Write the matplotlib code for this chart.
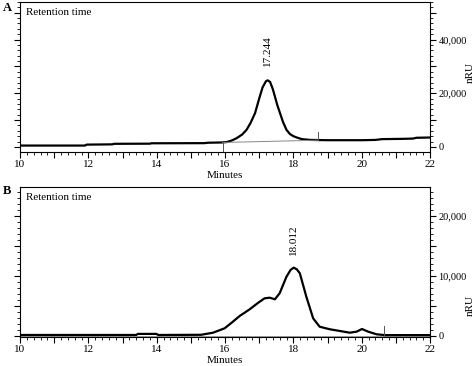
import matplotlib
matplotlib.use("Agg")
from matplotlib import pyplot as plt
from matplotlib.ticker import MultipleLocator, FuncFormatter

plt.rcParams['font.family'] = ['Liberation Serif', 'DejaVu Serif']
plt.rcParams['font.size'] = 8

# Panel A chromatogram (minutes, nRU)
time_a = [10.0, 11.9, 11.95, 12.7, 12.75, 13.8, 13.85, 15.4, 15.5, 15.9, 16.05, 16.2,
          16.34, 16.5, 16.63, 16.75, 16.88, 17.0, 17.1, 17.2, 17.25, 17.32, 17.4,
          17.46, 17.53, 17.61, 17.7, 17.8, 17.9, 18.0, 18.1, 18.25, 18.49, 19.0,
          20.0, 20.4, 20.6, 21.2, 21.5, 21.6, 22.0]
signal_a = [500, 500, 850, 950, 1150, 1200, 1350, 1400, 1550, 1650, 1800, 2400,
            3250, 4600, 6350, 9000, 12600, 18000, 22200, 24500, 24800, 24200, 21500,
            18800, 15600, 12600, 9200, 6350, 4800, 4000, 3500, 2900, 2600, 2500,
            2500, 2600, 2900, 3000, 3100, 3400, 3500]
base_a = ([15.93, 18.72], [1650, 2500])
peak_a = 17.244

# Panel B chromatogram
time_b = [10.0, 13.4, 13.45, 13.99, 14.05, 15.3, 15.65, 15.99, 16.23, 16.43, 16.72,
          16.97, 17.16, 17.31, 17.46, 17.6, 17.8, 17.92, 18.01, 18.1, 18.19, 18.38,
          18.58, 18.77, 19.07, 19.36, 19.65, 19.85, 20.01, 20.19, 20.44, 20.68, 22.0]
signal_b = [120, 120, 300, 300, 120, 150, 500, 1240, 2340, 3300, 4400,
            5500, 6250, 6350, 6080, 7100, 9870, 11000, 11370, 11100, 10430, 6520,
            2900, 1500, 1070, 790, 500, 670, 1120, 670, 230, 100, 100]
peak_b = 18.012


def fmt_every(step):
    return FuncFormatter(lambda v, p: f'{int(round(v)):,}' if round(v) % step == 0 else '')


def style_axes(ax, ymin, ymax, ymajor, yminor, ylabel_step, unit_y):
    ax.set_xlim(10, 22)
    ax.set_ylim(ymin, ymax)
    ax.xaxis.set_major_locator(MultipleLocator(1))
    ax.xaxis.set_minor_locator(MultipleLocator(0.2))
    ax.xaxis.set_major_formatter(FuncFormatter(lambda v, p: f'{int(v)}' if int(round(v)) % 2 == 0 else ''))
    ax.yaxis.set_major_locator(MultipleLocator(ymajor))
    ax.yaxis.set_minor_locator(MultipleLocator(yminor))
    ax.yaxis.set_major_formatter(fmt_every(ylabel_step))
    ax.tick_params(axis='x', which='both', direction='out', top=False, pad=2)
    ax.tick_params(axis='x', which='major', length=4)
    ax.tick_params(axis='x', which='minor', length=2)
    ax.tick_params(axis='y', which='both', direction='out', left=True, right=True,
                   labelleft=False, labelright=True, pad=2, labelsize=7.5)
    ax.tick_params(axis='y', which='major', length=4)
    ax.tick_params(axis='y', which='minor', length=2)
    ax.text(1.0975, unit_y, 'nRU', transform=ax.transAxes, rotation=90,
            ha='center', va='center')
    ax.set_xlabel('Minutes', labelpad=1)
    for s in ax.spines.values():
        s.set_linewidth(0.8)
    ax.text(0.015, 0.93, 'Retention time', transform=ax.transAxes, ha='left', va='center')


fig = plt.figure(figsize=(4.74, 3.66), dpi=100)
ax_a = fig.add_axes([0.0422, 0.5847, 0.8650, 0.4098])
ax_b = fig.add_axes([0.0422, 0.0792, 0.8650, 0.4107])

# A
style_axes(ax_a, -1900, 54000, 10000, 2000, 20000, 0.53)
ax_a.plot(time_a, signal_a, color='black', lw=1.6, solid_joinstyle='round')
ax_a.plot(base_a[0], base_a[1], color='#888888', lw=0.7)
ax_a.plot([base_a[0][0], base_a[0][0]], [base_a[1][0], -1900], color='#555555', lw=0.7)
ax_a.plot([base_a[0][1], base_a[0][1]], [base_a[1][1], 5700], color='#555555', lw=0.7)
ax_a.text(peak_a, 30000, f'{peak_a:.3f}', rotation=90, ha='center', va='bottom')
fig.text(0.006, 0.978, 'A', fontweight='bold', fontsize=9, ha='left', va='center')

# B
style_axes(ax_b, -220, 24900, 5000, 1000, 10000, 0.21)
ax_b.plot([10, 22], [0, 0], color='#999999', lw=0.7)
ax_b.plot(time_b, signal_b, color='black', lw=1.6, solid_joinstyle='round')
ax_b.plot([20.66, 20.66], [100, 1620], color='#555555', lw=0.7)
ax_b.text(peak_b, 13500, f'{peak_b:.3f}', rotation=90, ha='center', va='bottom')
fig.text(0.006, 0.478, 'B', fontweight='bold', fontsize=9, ha='left', va='center')

fig.savefig('out.png', dpi=100)
